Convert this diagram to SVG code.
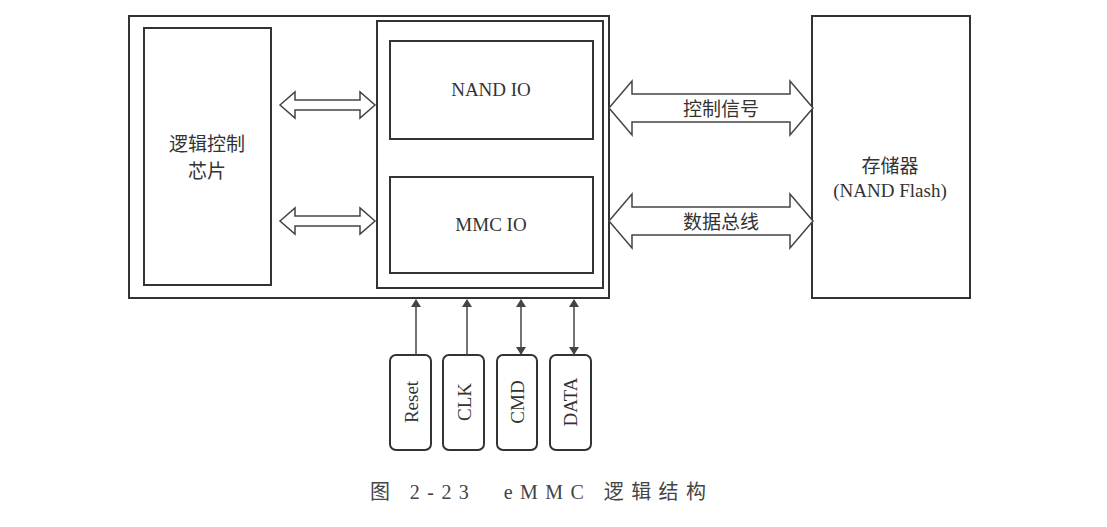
<svg xmlns="http://www.w3.org/2000/svg" width="1107" height="527" viewBox="0 0 1107 527">
<style>
.b{fill:#fff;stroke:#333;stroke-width:2}
.a{fill:#fff;stroke:#444;stroke-width:1.5}
.l{stroke:#444;stroke-width:1.5;fill:none}
.t{font-family:"Liberation Serif",serif;font-size:19px;fill:#333;text-anchor:middle}
.c{font-family:"Noto Sans CJK SC",sans-serif;font-size:19px;fill:#333;text-anchor:middle}
</style>
<defs>
<marker id="ah" markerWidth="8" markerHeight="10" refX="7" refY="5" orient="auto-start-reverse" markerUnits="userSpaceOnUse"><path d="M0,0L8,5L0,10z" fill="#444"/></marker>
</defs>
<rect width="1107" height="527" fill="#fff"/>
<g id="outer"><rect class="b" x="129" y="16" width="480" height="282"/></g>
<g id="chip"><rect class="b" x="144" y="28" width="127" height="257"/>
<text class="c" x="207" y="151">逻辑控制</text><text class="c" x="207" y="178">芯片</text></g>
<g id="ioframe"><rect class="b" x="377" y="21" width="226" height="267"/></g>
<g id="nandio"><rect class="b" x="390" y="41" width="203" height="98"/><text class="t" x="491" y="96">NAND IO</text></g>
<g id="mmcio"><rect class="b" x="390" y="177" width="203" height="96"/><text class="t" x="491" y="231">MMC IO</text></g>
<g id="storage"><rect class="b" x="812" y="16" width="158" height="282"/>
<text class="c" x="890" y="173">存储器</text><text class="t" x="890" y="197">(NAND Flash)</text></g>
<g id="sig">
<rect class="b" x="390" y="355" width="41" height="95" rx="6"/><text class="t" transform="translate(418,402) rotate(-90)">Reset</text>
<rect class="b" x="443" y="355" width="41" height="95" rx="6"/><text class="t" transform="translate(471,402) rotate(-90)">CLK</text>
<rect class="b" x="497" y="355" width="40" height="95" rx="6"/><text class="t" transform="translate(524,402) rotate(-90)">CMD</text>
<rect class="b" x="550" y="355" width="41" height="95" rx="6"/><text class="t" transform="translate(577,402) rotate(-90)">DATA</text>
</g>
<g id="connectors">
<path class="a" d="M280,105L295,92V100H360V92L375,105L360,118V110H295V118Z"/>
<path class="a" d="M280,221L295,208V216H360V208L375,221L360,234V226H295V234Z"/>
<path class="a" d="M609,108L632,81V94H790V81L813,108L790,135V122H632V135Z"/>
<path class="a" d="M609,221L632,194V207H790V194L813,221L790,248V235H632V248Z"/>
<line class="l" x1="416" y1="355" x2="416" y2="300" marker-end="url(#ah)"/>
<line class="l" x1="467" y1="355" x2="467" y2="300" marker-end="url(#ah)"/>
<line class="l" x1="521" y1="354" x2="521" y2="300" marker-start="url(#ah)" marker-end="url(#ah)"/>
<line class="l" x1="574" y1="354" x2="574" y2="300" marker-start="url(#ah)" marker-end="url(#ah)"/>
</g>
<text class="c" x="721" y="116">控制信号</text>
<text class="c" x="721" y="229">数据总线</text>
<text x="370" y="499" textLength="336" lengthAdjust="spacing" style="font-family:'Liberation Serif','Noto Sans CJK SC',serif;font-size:20px;fill:#444">图 2-23　eMMC 逻辑结构</text>
</svg>
